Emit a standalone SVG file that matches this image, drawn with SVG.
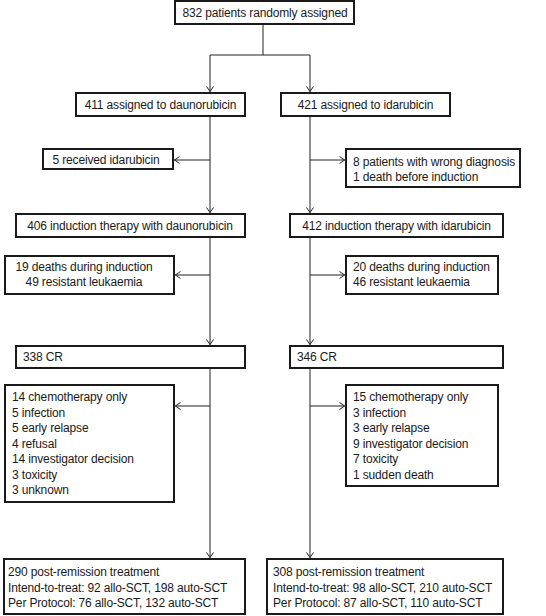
<svg xmlns="http://www.w3.org/2000/svg" width="546" height="616" viewBox="0 0 546 616">
<style>
.box{fill:#fff;stroke:#1a1a1a;stroke-width:2}
.t{font-family:"Liberation Sans",Arial,sans-serif;font-size:12px;letter-spacing:-0.15px;fill:#1a1a1a}
.c{text-anchor:middle}
.ln{fill:none;stroke:#222;stroke-width:1}
</style>
<defs>
<marker id="ah" viewBox="0 0 6 8" refX="6" refY="4" markerWidth="6" markerHeight="8" markerUnits="userSpaceOnUse" orient="auto">
<path d="M0.5,0.5 L5.5,4 L0.5,7.5" fill="none" stroke="#222" stroke-width="1"/>
</marker>
</defs>
<rect width="546" height="616" fill="#fff"/>
<g id="connectors" class="ln">
<path d="M263,25 V55 M210,55 H310"/>
<path d="M210,55 V92" marker-end="url(#ah)"/>
<path d="M310,55 V92" marker-end="url(#ah)"/>
<path d="M210,117 V213" marker-end="url(#ah)"/>
<path d="M210,160 H174" marker-end="url(#ah)"/>
<path d="M310,117 V213" marker-end="url(#ah)"/>
<path d="M310,160 H345" marker-end="url(#ah)"/>
<path d="M210,238 V345" marker-end="url(#ah)"/>
<path d="M210,275 H175" marker-end="url(#ah)"/>
<path d="M310,238 V345" marker-end="url(#ah)"/>
<path d="M310,275 H345" marker-end="url(#ah)"/>
<path d="M210,369 V558" marker-end="url(#ah)"/>
<path d="M210,406 H175" marker-end="url(#ah)"/>
<path d="M310,369 V558" marker-end="url(#ah)"/>
<path d="M310,406 H345" marker-end="url(#ah)"/>
</g>
<g id="n-top"><rect class="box" x="175" y="1" width="179" height="23"/><text class="t c" x="265" y="17">832 patients randomly assigned</text></g>
<g id="n-dauno"><rect class="box" x="76" y="93" width="169" height="23"/><text class="t c" x="160.5" y="109">411 assigned to daunorubicin</text></g>
<g id="n-ida"><rect class="box" x="281" y="93" width="169" height="23"/><text class="t c" x="365.5" y="109">421 assigned to idarubicin</text></g>
<g id="n-excl-l1"><rect class="box" x="43" y="149" width="130" height="20"/><text class="t c" x="106" y="164">5 received idarubicin</text></g>
<g id="n-excl-r1"><rect class="box" x="346" y="149" width="174" height="38"/><text class="t" x="353" y="166">8 patients with wrong diagnosis</text><text class="t" x="353" y="181">1 death before induction</text></g>
<g id="n-ind-l"><rect class="box" x="16" y="214" width="229" height="23"/><text class="t c" x="130" y="230">406 induction therapy with daunorubicin</text></g>
<g id="n-ind-r"><rect class="box" x="290" y="214" width="213" height="23"/><text class="t c" x="396.5" y="230">412 induction therapy with idarubicin</text></g>
<g id="n-excl-l2"><rect class="box" x="5" y="256" width="169" height="38"/><text class="t c" x="84" y="271">19 deaths during induction</text><text class="t c" x="84" y="286">49 resistant leukaemia</text></g>
<g id="n-excl-r2"><rect class="box" x="346" y="256" width="152" height="38"/><text class="t" x="353" y="271">20 deaths during induction</text><text class="t" x="353" y="286">46 resistant leukaemia</text></g>
<g id="n-cr-l"><rect class="box" x="16" y="346" width="229" height="22"/><text class="t" x="23" y="361">338 CR</text></g>
<g id="n-cr-r"><rect class="box" x="290" y="346" width="213" height="22"/><text class="t" x="297" y="361">346 CR</text></g>
<g id="n-excl-l3"><rect class="box" x="5" y="385" width="169" height="117"/>
<text class="t" x="12" y="401">14 chemotherapy only</text>
<text class="t" x="12" y="416.5">5 infection</text>
<text class="t" x="12" y="432">5 early relapse</text>
<text class="t" x="12" y="447.5">4 refusal</text>
<text class="t" x="12" y="463">14 investigator decision</text>
<text class="t" x="12" y="478.5">3 toxicity</text>
<text class="t" x="12" y="494">3 unknown</text></g>
<g id="n-excl-r3"><rect class="box" x="346" y="385" width="152" height="101"/>
<text class="t" x="353" y="401">15 chemotherapy only</text>
<text class="t" x="353" y="416.5">3 infection</text>
<text class="t" x="353" y="432">3 early relapse</text>
<text class="t" x="353" y="447.5">9 investigator decision</text>
<text class="t" x="353" y="463">7 toxicity</text>
<text class="t" x="353" y="478.5">1 sudden death</text></g>
<g id="n-post-l"><rect class="box" x="4" y="559" width="241" height="55"/>
<text class="t" x="8" y="576">290 post-remission treatment</text>
<text class="t" x="8" y="591.5">Intend-to-treat: 92 allo-SCT, 198 auto-SCT</text>
<text class="t" x="8" y="607">Per Protocol: 76 allo-SCT, 132 auto-SCT</text></g>
<g id="n-post-r"><rect class="box" x="267" y="559" width="236" height="55"/>
<text class="t" x="273" y="576">308 post-remission treatment</text>
<text class="t" x="273" y="591.5">Intend-to-treat: 98 allo-SCT, 210 auto-SCT</text>
<text class="t" x="273" y="607">Per Protocol: 87 allo-SCT, 110 auto-SCT</text></g>
</svg>
